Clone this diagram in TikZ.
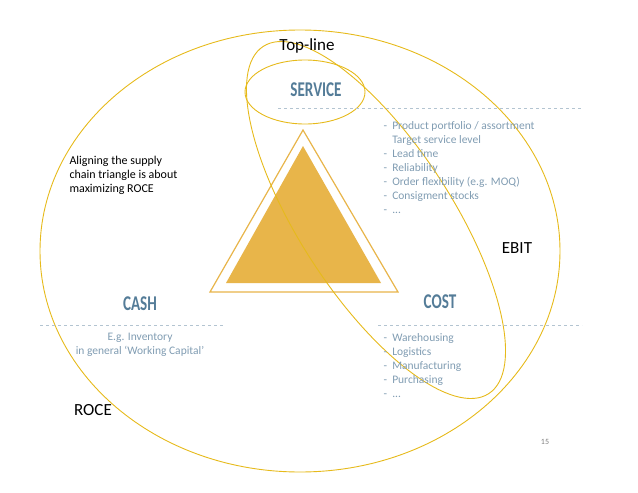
\documentclass[tikz,border=0pt]{standalone}
\usepackage{fontspec}
\setmainfont{Carlito}
\begin{document}
\begin{tikzpicture}[x=1pt,y=-1pt,
  ring/.style={draw=yellow!60!orange!90!black, line width=0.9pt},
  head/.style={text=hd, font=\bfseries\fontsize{21}{21}\selectfont},
  lst/.style={text=lt, font=\fontsize{11.5}{14}\selectfont, align=left, anchor=north west},
  dsh/.style={draw=lt!60, dashed, line width=0.6pt},
  blk/.style={font=\fontsize{12}{14}\selectfont, align=left}]
\definecolor{hd}{RGB}{84,124,152}
\definecolor{lt}{RGB}{128,156,178}
\useasboundingbox (0,0) rectangle (638,493);
\definecolor{tri}{RGB}{232,181,74}
\filldraw[draw=tri, fill=white, line width=1.2pt] (303,130) coordinate (ta) -- (398,292) -- (210,292) -- cycle;
\fill[tri] (303,146) -- (381,283) -- (226,283) -- cycle;
\draw[ring] (300,251) ellipse[x radius=260, y radius=221];
\draw[ring] (305,92) ellipse[x radius=60, y radius=32];
\draw[ring, rotate around={-57:(376,220)}] (376,220) ellipse[x radius=207, y radius=76];
\node[font=\fontsize{17}{17}\selectfont] (top) at (307,46) {Top-line};
\node[head, xscale=0.72] (sv) at (316,90) {SERVICE};
\node[head, xscale=0.72] (ca) at (140,304) {CASH};
\node[head, xscale=0.72] (co) at (440,302) {COST};
\coordinate (s1) at (278,108); \coordinate (s2) at (582,108);
\draw[dsh] (s1) -- (s2);
\coordinate (c1) at (40,325); \coordinate (c2) at (225,325);
\draw[dsh] (c1) -- (c2);
\coordinate (k1) at (378,325); \coordinate (k2) at (582,325);
\draw[dsh] (k1) -- (k2);
\node[lst] (sl) at (380,118) {-\ \ Product portfolio / assortment\\\phantom{-}\ \ Target service level\\-\ \ Lead time\\-\ \ Reliability\\-\ \ Order flexibility (e.g. MOQ)\\-\ \ Consigment stocks\\-\ \ ...};
\node[lst, align=center, anchor=north] (cl) at (140,330) {E.g. Inventory\\in general ‘Working Capital’};
\node[lst] (kl) at (380,330) {-\ \ Warehousing\\-\ \ Logistics\\-\ \ Manufacturing\\-\ \ Purchasing\\-\ \ ...};
\node[blk, anchor=north west] (al) at (66,153) {Aligning the supply\\chain triangle is about\\maximizing ROCE};
\node[font=\fontsize{17}{17}\selectfont] (eb) at (517,248) {EBIT};
\node[font=\fontsize{17}{17}\selectfont] (ro) at (93,410) {ROCE};
\node[font=\fontsize{8}{8}\selectfont, text=gray] (pg) at (545,442) {15};
\end{tikzpicture}
\end{document}
